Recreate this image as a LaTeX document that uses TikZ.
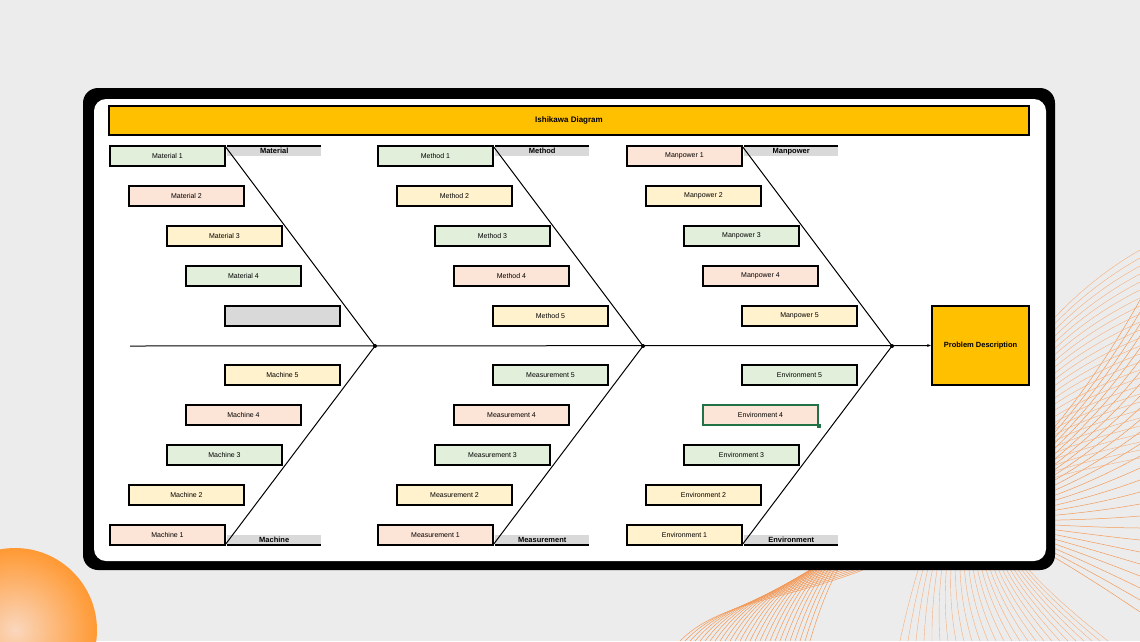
\documentclass[tikz,border=0pt]{standalone}
\usepackage{fontspec}
\setmainfont{Liberation Sans}
\usetikzlibrary{arrows.meta}
\definecolor{bg}{HTML}{ECECEC}
\definecolor{gold}{HTML}{FFC000}
\definecolor{cgreen}{HTML}{E2EFDA}
\definecolor{cpink}{HTML}{FCE4D6}
\definecolor{cyel}{HTML}{FFF2CC}
\definecolor{cgrey}{HTML}{D9D9D9}
\definecolor{wave}{HTML}{F39A5A}
\definecolor{xlgreen}{HTML}{217346}
\tikzset{
 cause/.style={draw=black,line width=1.2pt,minimum width=115pt,minimum height=20pt,inner sep=0pt,font=\fontsize{7}{8}\selectfont},
 catlab/.style={fill=cgrey,minimum width=94pt,minimum height=10pt,inner sep=0pt,font=\fontsize{7.5}{8}\selectfont\bfseries},
 bone/.style={line width=1pt},
}
\begin{document}
\begin{tikzpicture}[x=1pt,y=-1pt]
\useasboundingbox (0,0) rectangle (1140,641);
\fill[bg] (0,0) rectangle (1140,641);
\begin{scope}
\clip (0,0) rectangle (1140,641);
\shade[inner color=wave!40,outer color=orange!80] (15,630) circle (82);
\foreach \i in {0,...,26}{
 \draw[wave,line width=0.5pt] (680+5*\i,641) .. controls (760+4*\i,560-4*\i) and (950,640-6*\i) .. (1140,300+12*\i);
 \draw[wave!80,line width=0.4pt] (1140,250+8*\i) .. controls (1000,330+6*\i) and (930,500) .. (900+8*\i,641);
}
\end{scope}
\fill[black,rounded corners=15pt] (83,88) rectangle (1055,570);
\fill[white,rounded corners=12pt] (94,99) rectangle (1046,561);
\node[draw,line width=1.2pt,fill=gold,minimum width=920pt,minimum height=29pt,inner sep=0pt,font=\fontsize{8}{9}\selectfont\bfseries] (title) at (569,120.5) {Ishikawa Diagram};
\node[draw,line width=1.2pt,fill=gold,minimum width=97pt,minimum height=79pt,inner sep=0pt,font=\fontsize{7.5}{9}\selectfont\bfseries] (head) at (980.5,345.5) {Problem Description};
\coordinate (tail) at (130,346);
\draw[line width=1pt,-{Latex[length=4pt,width=3pt]}] (tail) -- (head.west);
\foreach \off/\tn/\bn/\j [count=\g] in {0/Material/Machine/375,268/Method/Measurement/643,517/Manpower/Environment/892}{
 \coordinate (j\g) at (\j,346);
 \coordinate (t\g) at (225+\off,146);
 \coordinate (b\g) at (225+\off,545);
 \node[catlab,anchor=north west] (tl\g) at (227+\off,146) {\tn};
 \draw[line width=1.5pt] (tl\g.north west) -- (tl\g.north east);
 \node[catlab,anchor=south west] (bl\g) at (227+\off,545) {\bn};
 \draw[line width=1.5pt] (bl\g.south west) -- (bl\g.south east);
 \draw[bone] (t\g) -- (j\g) -- (b\g);
 \fill[black] (j\g) circle (2);
}
\foreach \off/\name/\cols [count=\g] in {0/Material/{cgreen,cpink,cyel,cgreen,cgrey},268/Method/{cgreen,cyel,cgreen,cpink,cyel},517/Manpower/{cpink,cyel,cgreen,cpink,cyel}}{
 \foreach \c/\dx [count=\k] in {\cols} {
 }
 \foreach \c [count=\k] in \cols {
  \pgfmathsetmacro{\xx}{\off+167.5+ifthenelse(\k==1,0,ifthenelse(\k==2,19,ifthenelse(\k==3,57,ifthenelse(\k==4,76,115))))}
  \node[cause,fill=\c] (top\g\k) at (\xx,116+40*\k) {\ifnum\g=1 \ifnum\k=5 \else\name\ \k\fi\else\name\ \k\fi};
 }
}
\foreach \off/\name/\cols [count=\g] in {0/Machine/{cpink,cyel,cgreen,cpink,cyel},268/Measurement/{cpink,cyel,cgreen,cpink,cgreen},517/Environment/{cyel,cyel,cgreen,cpink,cgreen}}{
 \foreach \c [count=\k] in \cols {
  \pgfmathsetmacro{\xx}{\off+167.5+ifthenelse(\k==1,0,ifthenelse(\k==2,19,ifthenelse(\k==3,57,ifthenelse(\k==4,76,115))))}
  \pgfmathsetmacro{\isgreen}{(\g==3)&&(\k==4)}
  \ifdim\isgreen pt>0.5pt
   \node[cause,fill=\c,draw=xlgreen] (bot\g\k) at (\xx,575-40*\k) {\name\ \k};
  \else
   \node[cause,fill=\c] (bot\g\k) at (\xx,575-40*\k) {\name\ \k};
  \fi
 }
}
\fill[xlgreen] (bot34.south east) ++(-2,-2) rectangle ++(4,4);
\end{tikzpicture}
\end{document}
